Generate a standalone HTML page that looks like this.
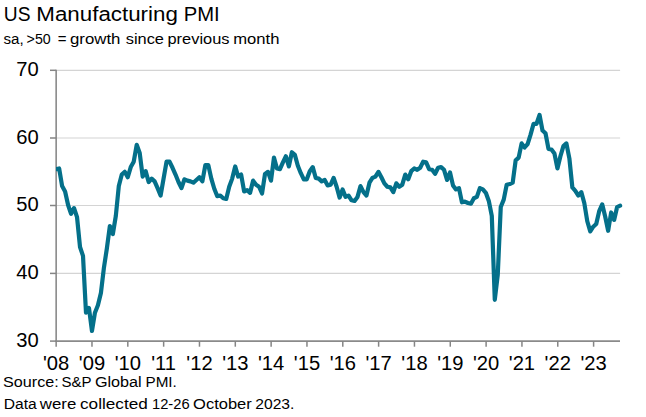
<!DOCTYPE html>
<html><head><meta charset="utf-8"><title>US Manufacturing PMI</title>
<style>
html,body{margin:0;padding:0;background:#fff;}
body{width:646px;height:417px;overflow:hidden;position:relative;font-family:"Liberation Sans",sans-serif;color:#000;}
svg{position:absolute;left:0;top:0;}
text{font-family:"Liberation Sans",sans-serif;fill:#000;}
.ax{font-family:"Liberation Sans",sans-serif;font-size:19.3px;fill:#000;}
</style></head><body>
<svg width="646" height="417" viewBox="0 0 646 417">
<defs><clipPath id="cl"><rect x="56.0" y="0" width="600" height="417"/></clipPath></defs>
<line x1="56.15" x2="620.1" y1="70.30" y2="70.30" stroke="#d4d4d4" stroke-width="1.15"/>
<line x1="56.15" x2="620.1" y1="138.00" y2="138.00" stroke="#d4d4d4" stroke-width="1.15"/>
<line x1="56.15" x2="620.1" y1="205.50" y2="205.50" stroke="#d4d4d4" stroke-width="1.15"/>
<line x1="56.15" x2="620.1" y1="273.40" y2="273.40" stroke="#d4d4d4" stroke-width="1.15"/>

<line x1="56.15" x2="56.15" y1="69.7" y2="341.10" stroke="#8a8a8a" stroke-width="1.6"/>
<line x1="55.35" x2="620.0" y1="341.10" y2="341.10" stroke="#8a8a8a" stroke-width="1.6"/>
<line x1="50.0" x2="56.15" y1="70.30" y2="70.30" stroke="#858585" stroke-width="1.5"/>
<line x1="50.0" x2="56.15" y1="138.00" y2="138.00" stroke="#858585" stroke-width="1.5"/>
<line x1="50.0" x2="56.15" y1="205.50" y2="205.50" stroke="#858585" stroke-width="1.5"/>
<line x1="50.0" x2="56.15" y1="273.40" y2="273.40" stroke="#858585" stroke-width="1.5"/>
<line x1="50.0" x2="56.15" y1="341.10" y2="341.10" stroke="#858585" stroke-width="1.5"/>
<line x1="56.15" x2="56.15" y1="341.10" y2="346.7" stroke="#858585" stroke-width="1.5"/>
<line x1="91.98" x2="91.98" y1="341.10" y2="346.7" stroke="#858585" stroke-width="1.5"/>
<line x1="127.81" x2="127.81" y1="341.10" y2="346.7" stroke="#858585" stroke-width="1.5"/>
<line x1="163.64" x2="163.64" y1="341.10" y2="346.7" stroke="#858585" stroke-width="1.5"/>
<line x1="199.47" x2="199.47" y1="341.10" y2="346.7" stroke="#858585" stroke-width="1.5"/>
<line x1="235.30" x2="235.30" y1="341.10" y2="346.7" stroke="#858585" stroke-width="1.5"/>
<line x1="271.13" x2="271.13" y1="341.10" y2="346.7" stroke="#858585" stroke-width="1.5"/>
<line x1="306.96" x2="306.96" y1="341.10" y2="346.7" stroke="#858585" stroke-width="1.5"/>
<line x1="342.79" x2="342.79" y1="341.10" y2="346.7" stroke="#858585" stroke-width="1.5"/>
<line x1="378.62" x2="378.62" y1="341.10" y2="346.7" stroke="#858585" stroke-width="1.5"/>
<line x1="414.45" x2="414.45" y1="341.10" y2="346.7" stroke="#858585" stroke-width="1.5"/>
<line x1="450.28" x2="450.28" y1="341.10" y2="346.7" stroke="#858585" stroke-width="1.5"/>
<line x1="486.11" x2="486.11" y1="341.10" y2="346.7" stroke="#858585" stroke-width="1.5"/>
<line x1="521.94" x2="521.94" y1="341.10" y2="346.7" stroke="#858585" stroke-width="1.5"/>
<line x1="557.77" x2="557.77" y1="341.10" y2="346.7" stroke="#858585" stroke-width="1.5"/>
<line x1="593.60" x2="593.60" y1="341.10" y2="346.7" stroke="#858585" stroke-width="1.5"/>

<polyline fill="none" stroke="#04708a" stroke-width="4.2" stroke-linejoin="round" stroke-linecap="round" clip-path="url(#cl)" points="56.15,169.14 59.13,168.46 62.12,186.07 65.10,191.48 68.09,205.02 71.07,213.82 74.05,208.07 77.04,217.21 80.02,247.00 83.00,255.80 85.99,312.67 88.97,307.93 91.96,330.94 94.94,312.67 97.92,305.22 100.91,293.03 103.89,267.98 106.88,248.35 109.86,226.01 112.84,234.13 115.83,215.85 118.81,186.07 121.79,174.56 124.78,171.85 127.76,177.27 130.75,167.11 133.73,161.69 136.71,144.77 139.70,152.89 142.68,176.59 145.67,171.17 148.65,182.00 151.63,178.62 154.62,181.33 157.60,188.10 160.59,195.54 163.57,178.62 166.55,161.69 169.54,161.69 172.52,167.79 175.50,174.56 178.49,182.00 181.47,188.10 184.46,179.30 187.44,180.65 190.42,181.33 193.41,182.68 196.39,179.97 199.38,177.27 202.36,181.33 205.34,165.08 208.33,165.08 211.31,178.62 214.29,188.77 217.28,196.22 220.26,195.54 223.25,198.25 226.23,198.93 229.21,186.74 232.20,178.62 235.18,166.43 238.17,176.59 241.15,174.56 244.13,191.48 247.12,190.13 250.10,192.84 253.08,180.65 256.07,184.71 259.05,186.74 262.04,193.51 265.02,173.88 268.00,171.85 270.99,180.65 273.97,157.63 276.96,168.46 279.94,169.14 282.92,162.37 285.91,156.28 288.89,166.43 291.88,152.22 294.86,154.92 297.84,165.76 300.83,173.20 303.81,179.30 306.79,179.30 309.78,171.17 312.76,167.11 315.75,177.94 318.73,178.62 321.71,181.33 324.70,179.97 327.68,185.39 330.67,184.71 333.65,177.94 336.63,186.74 339.62,197.58 342.60,189.45 345.58,196.90 348.57,195.54 351.55,200.28 354.54,200.96 357.52,196.90 360.50,186.07 363.49,192.16 366.47,195.54 369.46,182.68 372.44,177.94 375.42,176.59 378.41,171.85 381.39,177.27 384.37,183.36 387.36,186.74 390.34,187.42 393.33,192.16 396.31,183.36 399.29,186.74 402.28,184.71 405.26,174.56 408.25,179.30 411.23,171.17 414.21,168.46 417.20,169.82 420.18,167.79 423.17,161.69 426.15,162.37 429.13,169.14 432.12,169.82 435.10,173.88 438.08,167.79 441.07,167.11 444.05,169.82 447.04,179.97 450.02,172.53 453.00,185.39 455.99,189.45 458.97,188.10 461.96,202.31 464.94,201.64 467.92,202.99 470.91,203.67 473.89,198.25 476.87,196.90 479.86,188.10 482.84,189.45 485.83,192.84 488.81,200.96 491.79,215.85 494.78,299.80 497.76,274.75 500.75,207.05 503.73,199.61 506.71,184.71 509.70,184.04 512.68,182.68 515.66,160.34 518.65,157.63 521.63,143.42 524.62,147.48 527.60,144.09 530.58,134.62 533.57,123.78 536.55,123.78 539.54,114.98 542.52,130.55 545.50,133.26 548.49,148.83 551.47,149.51 554.46,153.57 557.44,168.46 560.42,156.28 563.41,146.12 566.39,143.42 569.37,158.31 572.36,187.42 575.34,190.81 578.33,195.54 581.31,192.16 584.29,202.99 587.28,221.27 590.26,231.43 593.25,226.69 596.23,223.98 599.21,211.12 602.20,204.35 605.18,216.53 608.16,230.75 611.15,212.47 614.13,219.92 617.12,207.05 620.10,205.70"/>
<text transform="translate(38.7,76.00) scale(1.046,1)" text-anchor="end" class="ax">70</text>
<text transform="translate(38.7,143.70) scale(1.046,1)" text-anchor="end" class="ax">60</text>
<text transform="translate(38.7,211.20) scale(1.046,1)" text-anchor="end" class="ax">50</text>
<text transform="translate(38.7,279.10) scale(1.046,1)" text-anchor="end" class="ax">40</text>
<text transform="translate(38.7,346.80) scale(1.046,1)" text-anchor="end" class="ax">30</text>
<text transform="translate(56.15,369.6) scale(1.046,1)" text-anchor="middle" class="ax">'08</text>
<text transform="translate(91.98,369.6) scale(1.046,1)" text-anchor="middle" class="ax">'09</text>
<text transform="translate(127.81,369.6) scale(1.046,1)" text-anchor="middle" class="ax">'10</text>
<text transform="translate(163.64,369.6) scale(1.046,1)" text-anchor="middle" class="ax">'11</text>
<text transform="translate(199.47,369.6) scale(1.046,1)" text-anchor="middle" class="ax">'12</text>
<text transform="translate(235.30,369.6) scale(1.046,1)" text-anchor="middle" class="ax">'13</text>
<text transform="translate(271.13,369.6) scale(1.046,1)" text-anchor="middle" class="ax">'14</text>
<text transform="translate(306.96,369.6) scale(1.046,1)" text-anchor="middle" class="ax">'15</text>
<text transform="translate(342.79,369.6) scale(1.046,1)" text-anchor="middle" class="ax">'16</text>
<text transform="translate(378.62,369.6) scale(1.046,1)" text-anchor="middle" class="ax">'17</text>
<text transform="translate(414.45,369.6) scale(1.046,1)" text-anchor="middle" class="ax">'18</text>
<text transform="translate(450.28,369.6) scale(1.046,1)" text-anchor="middle" class="ax">'19</text>
<text transform="translate(486.11,369.6) scale(1.046,1)" text-anchor="middle" class="ax">'20</text>
<text transform="translate(521.94,369.6) scale(1.046,1)" text-anchor="middle" class="ax">'21</text>
<text transform="translate(557.77,369.6) scale(1.046,1)" text-anchor="middle" class="ax">'22</text>
<text transform="translate(593.60,369.6) scale(1.046,1)" text-anchor="middle" class="ax">'23</text>

</svg>
<svg width="646" height="417" viewBox="0 0 646 417">
<text x="3.80" y="20.6" textLength="26.70" lengthAdjust="spacingAndGlyphs" style="font-size:19.4px">US</text>
<text x="36.30" y="20.6" textLength="141.60" lengthAdjust="spacingAndGlyphs" style="font-size:19.4px">Manufacturing</text>
<text x="183.70" y="20.6" textLength="36.00" lengthAdjust="spacingAndGlyphs" style="font-size:19.4px">PMI</text>
<text x="3.40" y="43.8" textLength="20.20" lengthAdjust="spacingAndGlyphs" style="font-size:15.4px">sa,</text>
<text x="26.60" y="43.8" textLength="24.10" lengthAdjust="spacingAndGlyphs" style="font-size:15.4px">&gt;50</text>
<text x="57.70" y="43.8" textLength="8.80" lengthAdjust="spacingAndGlyphs" style="font-size:15.4px">=</text>
<text x="70.00" y="43.8" textLength="50.40" lengthAdjust="spacingAndGlyphs" style="font-size:15.4px">growth</text>
<text x="125.70" y="43.8" textLength="38.30" lengthAdjust="spacingAndGlyphs" style="font-size:15.4px">since</text>
<text x="167.50" y="43.8" textLength="62.00" lengthAdjust="spacingAndGlyphs" style="font-size:15.4px">previous</text>
<text x="233.20" y="43.8" textLength="46.20" lengthAdjust="spacingAndGlyphs" style="font-size:15.4px">month</text>
<text x="3.10" y="386.9" textLength="55.70" lengthAdjust="spacingAndGlyphs" style="font-size:15.4px">Source:</text>
<text x="61.40" y="386.9" textLength="30.00" lengthAdjust="spacingAndGlyphs" style="font-size:15.4px">S&amp;P</text>
<text x="94.90" y="386.9" textLength="46.80" lengthAdjust="spacingAndGlyphs" style="font-size:15.4px">Global</text>
<text x="145.50" y="386.9" textLength="31.30" lengthAdjust="spacingAndGlyphs" style="font-size:15.4px">PMI.</text>
<text x="3.80" y="409.2" textLength="33.00" lengthAdjust="spacingAndGlyphs" style="font-size:15.4px">Data</text>
<text x="39.80" y="409.2" textLength="36.50" lengthAdjust="spacingAndGlyphs" style="font-size:15.4px">were</text>
<text x="80.00" y="409.2" textLength="67.80" lengthAdjust="spacingAndGlyphs" style="font-size:15.4px">collected</text>
<text x="152.00" y="409.2" textLength="37.60" lengthAdjust="spacingAndGlyphs" style="font-size:15.4px">12-26</text>
<text x="193.10" y="409.2" textLength="58.70" lengthAdjust="spacingAndGlyphs" style="font-size:15.4px">October</text>
<text x="255.30" y="409.2" textLength="39.10" lengthAdjust="spacingAndGlyphs" style="font-size:15.4px">2023.</text>
</svg>
</body></html>
